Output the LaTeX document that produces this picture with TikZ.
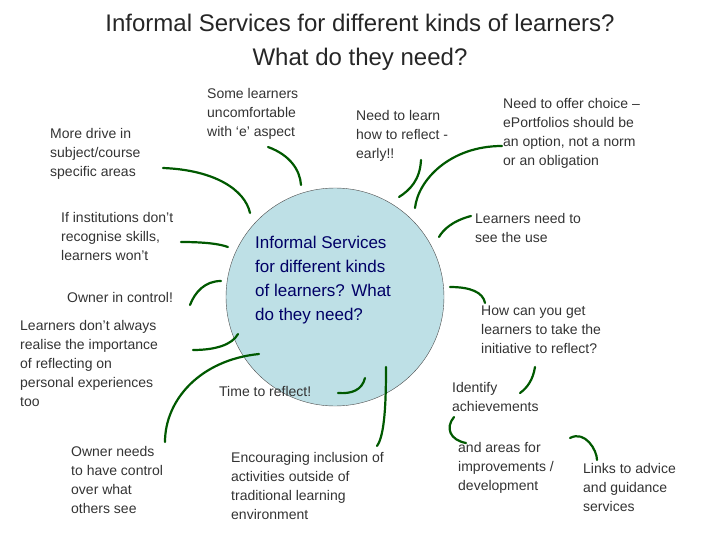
\documentclass[tikz,border=0pt]{standalone}
\usepackage{fontspec}
\setmainfont{Liberation Sans}
\definecolor{hubfill}{RGB}{190,224,230}
\begin{document}
\begin{tikzpicture}[x=1pt,y=-1pt,
  lbl/.style={anchor=north west,inner sep=0pt,align=left,text=black!80,font=\fontsize{14}{19}\selectfont},
  conn/.style={draw=green!35!black,line width=2.2pt,line cap=round}]
\useasboundingbox (0,0) rectangle (720,540);
\node[anchor=center,align=center,font=\fontsize{24}{34}\selectfont,text=black!85] (title) at (360,42) {Informal Services for different kinds of learners?\\What do they need?};
\node[circle,draw=black!70,fill=hubfill,minimum size=218pt,inner sep=0pt] (hub) at (335,297) {};
\node[anchor=north west,inner sep=0pt,align=left,text=blue!40!black,font=\fontsize{17}{24}\selectfont] (ctext) at (255,236) {Informal Services\\for different kinds\\of learners? What\\do they need?};
\node[lbl] (t1) at (50,128) {More drive in\\subject/course\\specific areas};
\node[lbl] (t2) at (207,88) {Some learners\\uncomfortable\\with `e' aspect};
\node[lbl] (t3) at (356,110) {Need to learn\\how to reflect -\\early!!};
\node[lbl] (t4) at (503,98) {Need to offer choice --\\ePortfolios should be\\an option, not a norm\\or an obligation};
\node[lbl] (t5) at (61,212) {If institutions don't\\recognise skills,\\learners won't};
\node[lbl] (t6) at (67,292) {Owner in control!};
\node[lbl] (t7) at (20,320) {Learners don't always\\realise the importance\\of reflecting on\\personal experiences\\too};
\node[lbl] (t8) at (71,446) {Owner needs\\to have control\\over what\\others see};
\node[lbl] (t9) at (219,386) {Time to reflect!};
\node[lbl] (t10) at (231,452) {Encouraging inclusion of\\activities outside of\\traditional learning\\environment};
\node[lbl] (t11) at (475,213) {Learners need to\\see the use};
\node[lbl] (t12) at (481,306) {How can you get\\learners to take the\\initiative to reflect?};
\node[lbl] (t13) at (452,382) {Identify\\achievements};
\node[lbl] (t14) at (458,442) {and areas for\\improvements /\\development};
\node[lbl] (t15) at (583,463) {Links to advice\\and guidance\\services};
\foreach \n/\ax/\ay/\px/\py/\qx/\qy/\bx/\by in {
 1/163/168/215/170/245/190/250/213,
 2/268/147/290/155/300/170/301/185,
 3/421/160/420/180/410/190/399/197,
 4/502/146/450/146/418/180/415/208,
 5/471/216/452/221/443/230/439/237,
 6/450/287/470/287/483/292/485/303,
 7/535/367/533/380/527/388/520/393,
 8/454/417/445/428/450/440/466/443,
 9/570/438/585/430/597/450/597/460,
 10/386/367/386/400/385/435/377/446,
 11/365/378/362/390/352/394/338/393,
 12/259/354/200/360/165/400/165/442,
 13/238/334/232/345/215/350/193/350,
 14/221/281/205/281/195/292/190/305,
 15/181/242/205/242/220/244/228/247}{
 \coordinate (s\n) at (\ax,\ay); \coordinate (e\n) at (\bx,\by);
 \draw[conn] (s\n) .. controls (\px,\py) and (\qx,\qy) .. (e\n);
}
\end{tikzpicture}
\end{document}
